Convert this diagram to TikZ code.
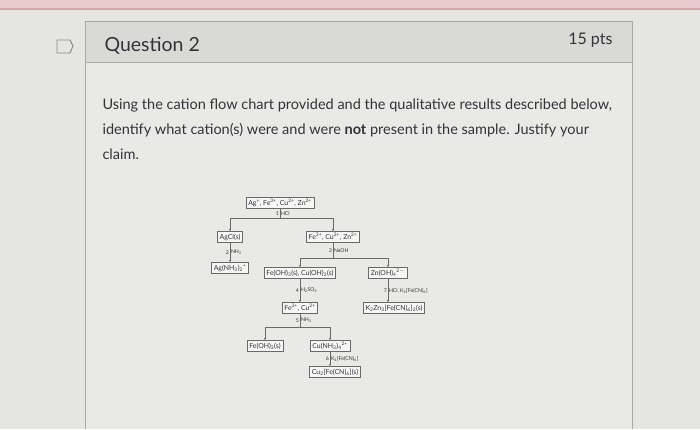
\documentclass[tikz,border=0pt]{standalone}
\usepackage{fontspec}
\setmainfont{Lato}
\usepackage{xcolor}
\usetikzlibrary{
    positioning,    % For relative node placement
    arrows.meta,    % For arrow tip styles
    calc            % For coordinate calculations
}
\definecolor{pagebg}{RGB}{229, 229, 226}
\definecolor{cardbg}{RGB}{233, 233, 230}
\definecolor{headbg}{RGB}{217, 217, 214}
\definecolor{cardline}{RGB}{168, 168, 166}
\definecolor{pinkbar}{RGB}{233, 203, 205}
\definecolor{pinkline}{RGB}{214, 165, 170}
\definecolor{inktext}{RGB}{48, 52, 58}
\definecolor{flowgray}{RGB}{105, 105, 105}

\begin{document}
\begin{tikzpicture}[
    x=1pt, y=-1pt, % pixel-like coordinates, y pointing down
    >={Stealth[length=2.4pt, width=2.2pt]}, % Default arrow tip style
    % Styles
    chem_box/.style={ % Style for the species boxes of the chart
        rectangle,
        draw=flowgray,
        line width=0.6pt,
        fill=white!60!cardbg,
        minimum height=11pt,
        inner xsep=2.2pt,
        inner ysep=1pt,
        text=inktext,
        font=\fontsize{6.9}{7}\selectfont
    },
    flow_line/.style={
        draw=flowgray, line width=0.6pt
    },
    flow_arrow/.style={
        ->, draw=flowgray, line width=0.6pt
    },
    step_num/.style={ % number left of a step line
        inner sep=0.7pt, anchor=east, text=inktext,
        font=\fontsize{5.2}{5.5}\selectfont
    },
    step_reagent/.style={ % reagent right of a step line
        inner sep=0.7pt, anchor=west, text=inktext,
        font=\fontsize{5.2}{5.5}\selectfont
    },
    body_text/.style={
        anchor=north west, align=left, text=inktext,
        font=\fontsize{14.5}{25}\selectfont
    }
]
\useasboundingbox (0,0) rectangle (700,429);

% --- Page and card ---
\fill[pagebg] (0,0) rectangle (700,429);
\fill[pinkbar] (0,0) rectangle (700,9);
\draw[pinkline, line width=1.2pt] (0,9) -- (700,9);
\fill[cardbg] (85,21) rectangle (632,429);
\fill[headbg] (85,21) rectangle (632,62);
\draw[cardline, line width=0.8pt] (85,429) -- (85,21) -- (632,21) -- (632,429);
\draw[cardline, line width=0.8pt] (85,62) -- (632,62);

% flag icon in front of the card
\draw[cardline!80!black, line width=0.9pt, line join=round]
    (57,40) -- (70,40) -- (73,46) -- (70,53) -- (57,53) -- cycle;

% --- Header and question text ---
\node[anchor=west, text=inktext, font=\fontsize{19.5}{22}\selectfont] (qtitle) at (101,46) {Question 2};
\node[anchor=east, text=inktext, font=\fontsize{16}{18}\selectfont] (qpts) at (616,40) {15 pts};
\node[body_text] (qbody) at (99,95) {Using the cation flow chart provided and the qualitative results described below,\\
identify what cation(s) were and were \textbf{not} present in the sample. Justify your\\
claim.};

% --- Row 1: starting mixture ---
\node[chem_box] (mix) at (280,203) {Ag\textsuperscript{+}, Fe\textsuperscript{3+}, Cu\textsuperscript{2+}, Zn\textsuperscript{2+}};
\coordinate (split1) at (280,218);
\draw[flow_line] (mix.south) -- node[step_num]{1} node[step_reagent]{HCl} (split1);

% --- Row 2: after HCl ---
\node[chem_box] (agcl) at (230,237) {AgCl(s)};
\node[chem_box] (fecuzn) at (333,237) {Fe\textsuperscript{3+}, Cu\textsuperscript{2+}, Zn\textsuperscript{2+}};
\draw[flow_arrow] (split1) -| (agcl.north);
\draw[flow_arrow] (split1) -| (fecuzn.north);

% --- Silver branch ---
\node[chem_box] (agnh) at (230,268) {Ag(NH\textsubscript{3})\textsubscript{2}\textsuperscript{+}};
\draw[flow_arrow] (agcl.south) -- node[step_num]{2} node[step_reagent]{NH\textsubscript{3}} (agnh.north);

% --- Row 3: after NaOH ---
\coordinate (split2) at (333,258);
\draw[flow_line] (fecuzn.south) -- node[step_num]{3} node[step_reagent]{NaOH} (split2);
\node[chem_box] (hydrox) at (300,273) {Fe(OH)\textsubscript{3}(s), Cu(OH)\textsubscript{2}(s)};
\node[chem_box] (zinc) at (388,273) {Zn(OH)\textsubscript{4}\textsuperscript{2$-$}};
\draw[flow_arrow] (split2) -| (hydrox.north);
\draw[flow_arrow] (split2) -| (zinc.north);

% --- Row 4 ---
\node[chem_box] (fecu) at (300,308) {Fe\textsuperscript{3+}, Cu\textsuperscript{2+}};
\node[chem_box] (znppt) at (394,308) {K\textsubscript{2}Zn\textsubscript{3}[Fe(CN)\textsubscript{6}]\textsubscript{2}(s)};
\draw[flow_arrow] (hydrox.south) -- node[step_num]{4} node[step_reagent]{H\textsubscript{2}SO\textsubscript{4}} (fecu.north);
\draw[flow_arrow] (zinc.south) -- node[step_num]{7} node[step_reagent]{HCl, K\textsubscript{4}[Fe(CN)\textsubscript{6}]} (zinc.south |- znppt.north);

% --- Row 5: after NH3 ---
\coordinate (split3) at (300,327);
\draw[flow_line] (fecu.south) -- node[step_num]{5} node[step_reagent]{NH\textsubscript{3}} (split3);
\node[chem_box] (feppt) at (265,346) {Fe(OH)\textsubscript{3}(s)};
\node[chem_box] (cuamm) at (330,346) {Cu(NH\textsubscript{3})\textsubscript{4}\textsuperscript{2+}};
\draw[flow_arrow] (split3) -| (feppt.north);
\draw[flow_arrow] (split3) -| (cuamm.north);

% --- Row 6: copper test ---
\node[chem_box] (cuppt) at (335,372) {Cu\textsubscript{2}[Fe(CN)\textsubscript{6}](s)};
\draw[flow_arrow] (cuamm.south) -- node[step_num]{6} node[step_reagent]{K\textsubscript{4}[Fe(CN)\textsubscript{6}]} (cuamm.south |- cuppt.north);

\end{tikzpicture}
\end{document}
